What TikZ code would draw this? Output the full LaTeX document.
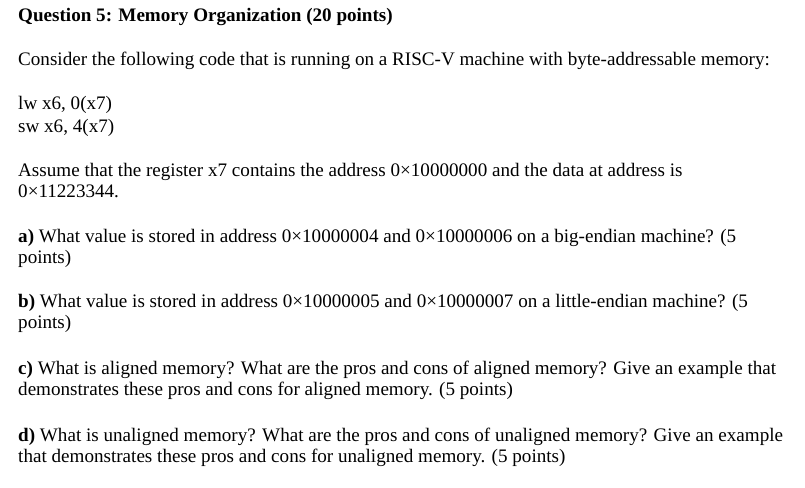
\documentclass[tikz,border=0pt]{standalone}
\usepackage{fontspec}
\setmainfont{Liberation Serif}
\begin{document}
\begin{tikzpicture}[x=1pt,y=-1pt,txt/.style={anchor=base west,inner sep=0pt,font=\fontsize{19.1}{22}\selectfont}]
\useasboundingbox[fill=white] (0,0) rectangle (805,487);
\node[txt] (t) at (18,22) {\textbf{Question 5: Memory Organization (20 points)}};
\node[txt] (l1) at (18,66) {Consider the following code that is running on a RISC-V machine with byte-addressable memory:};
\node[txt] (l2) at (18,109) {lw x6, 0(x7)};
\node[txt] (l3) at (18,132) {sw x6, 4(x7)};
\node[txt] (l4) at (18,176) {Assume that the register x7 contains the address 0×10000000 and the data at address is};
\node[txt] (l5) at (18,197) {0×11223344.};
\node[txt] (a1) at (18,242) {\textbf{a)} What value is stored in address 0×10000004 and 0×10000006 on a big-endian machine? (5};
\node[txt] (a2) at (18,263) {points)};
\node[txt] (b1) at (18,307) {\textbf{b)} What value is stored in address 0×10000005 and 0×10000007 on a little-endian machine? (5};
\node[txt] (b2) at (18,328) {points)};
\node[txt] (c1) at (18,374) {\textbf{c)} What is aligned memory? What are the pros and cons of aligned memory? Give an example that};
\node[txt] (c2) at (18,395) {demonstrates these pros and cons for aligned memory. (5 points)};
\node[txt] (d1) at (18,441) {\textbf{d)} What is unaligned memory? What are the pros and cons of unaligned memory? Give an example};
\node[txt] (d2) at (18,462) {that demonstrates these pros and cons for unaligned memory. (5 points)};
\end{tikzpicture}
\end{document}
